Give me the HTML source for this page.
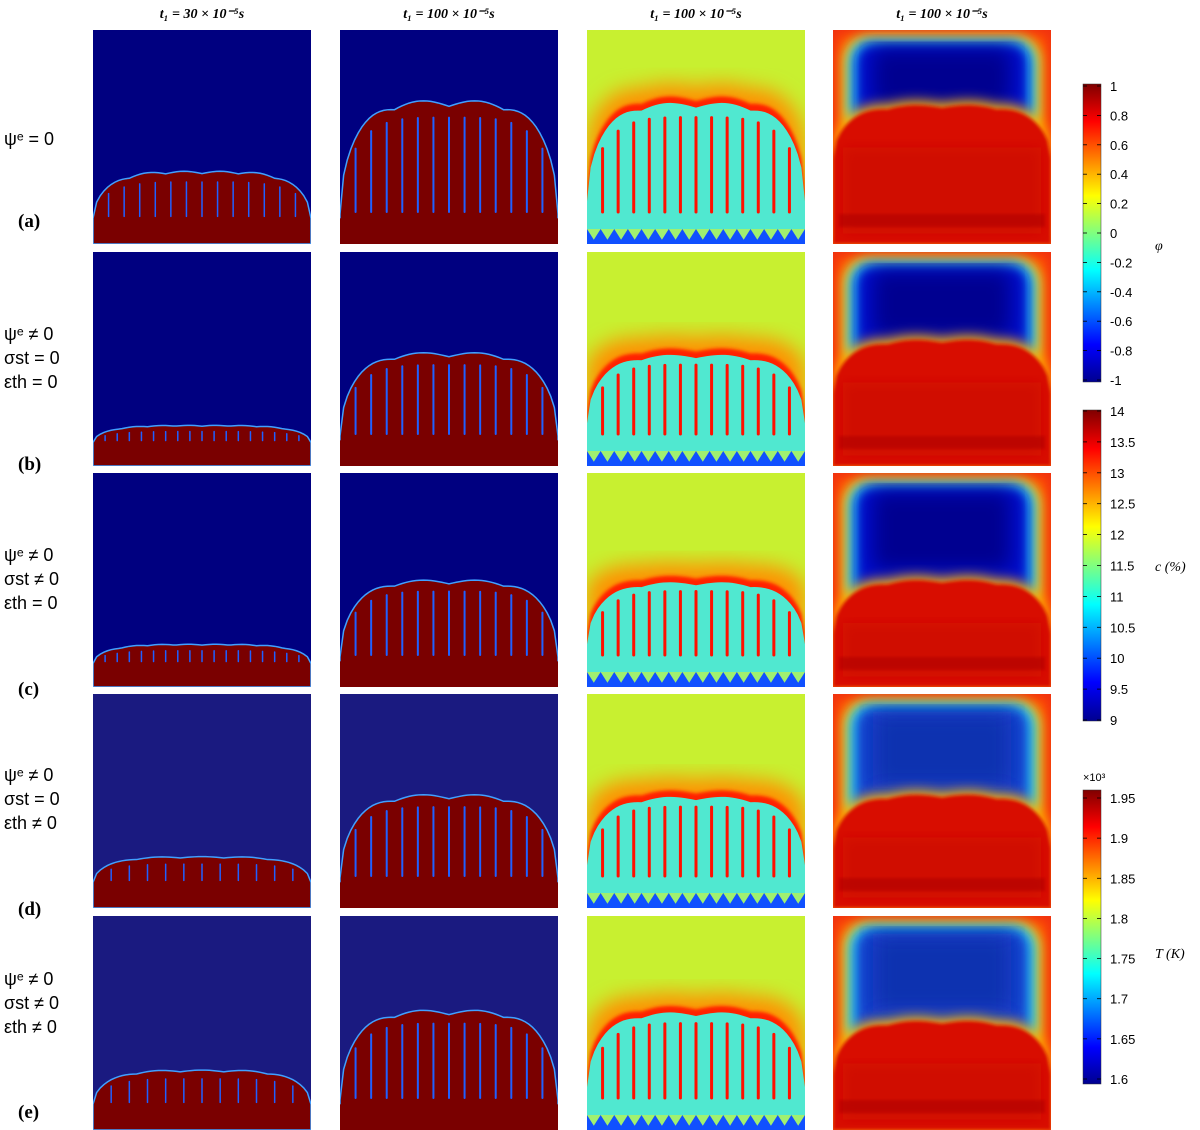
<!DOCTYPE html>
<html><head><meta charset="utf-8"><style>
body{margin:0;background:#fff;width:1200px;height:1130px;overflow:hidden;font-family:"Liberation Serif",serif}
svg{position:absolute;left:0;top:0}
</style></head><body>
<svg id="fig" width="1200" height="1130">
<defs>
<filter id="b2"><feGaussianBlur stdDeviation="1.5"/></filter>
<filter id="b6"><feGaussianBlur stdDeviation="6"/></filter>
<filter id="b12"><feGaussianBlur stdDeviation="10"/></filter>
<linearGradient id="jet" x1="0" y1="1" x2="0" y2="0">
<stop offset="0" stop-color="#00008f"/><stop offset="0.125" stop-color="#0000ff"/><stop offset="0.375" stop-color="#00ffff"/><stop offset="0.625" stop-color="#ffff00"/><stop offset="0.875" stop-color="#ff0000"/><stop offset="1" stop-color="#800000"/>
</linearGradient>
</defs>
</svg>
<script>
const NS="http://www.w3.org/2000/svg";
const svg=document.getElementById('fig');
const defs=svg.querySelector('defs');
function mk(t,a,p){const e=document.createElementNS(NS,t);for(const k in a)e.setAttribute(k,a[k]);(p||svg).appendChild(e);return e;}

const colX=[93,340,587,833];
const rowY=[30,252,473,694,916];
const PW=218, PH=214;
const col1Top=[0.66,0.81,0.80,0.76,0.72];
const col2Top=[0.33,0.47,0.50,0.47,0.44];
const col4Top=[0.35,0.41,0.50,0.47,0.49];
const baseFrac=[0.88,0.89,0.89,0.88,0.88];
const fingerCount=[12,16,16,10,10];

function domePath(x,y,top,base,waves){
  let d=`M${x},${y+PH} L${x},${y+PH*base}`;
  const steps=60;
  for(let i=0;i<=steps;i++){
    const t=i/steps;
    const h=Math.sqrt(Math.max(0,1-Math.pow(2*t-1,4)));
    const w=Math.abs(Math.sin(t*Math.PI*waves))*0.05;
    const yy=y+PH*(base-(base-top)*h*(0.95+w));
    d+=` L${x+t*PW},${yy}`;
  }
  d+=` L${x+PW},${y+PH} Z`;
  return d;
}
function fingers(g,x,y,top,base,n,col,wid){
  for(let i=1;i<n;i++){
    const t=i/n;
    const h=Math.sqrt(Math.max(0,1-Math.pow(2*t-1,4)));
    const y1=y+PH*(base-(base-top)*h*0.85);
    mk('line',{x1:x+t*PW,y1:y1,x2:x+t*PW,y2:y+PH*base-2,stroke:col,'stroke-width':wid,'stroke-linecap':'round'},g);
  }
}
let cid=0;
function panel(name,x,y){
  const id='cp'+(cid++);
  const c=mk('clipPath',{id:id},defs);
  mk('rect',{x:x,y:y,width:PW,height:PH},c);
  const g=mk('g',{'clip-path':`url(#${id})`});
  
  
  return g;
}

for(let r=0;r<5;r++){
  const y=rowY[r];
  const navy=r>=3?'#1a1a80':'#000080';
  let x=colX[0];
  let g=panel(`panel-phi-early-row${r}`,x,y);
  mk('rect',{x:x,y:y,width:PW,height:PH,fill:navy},g);
  mk('path',{d:domePath(x,y,col1Top[r],baseFrac[r],fingerCount[r]/2),fill:'#7a0000',stroke:'#40a0ff','stroke-width':1.5},g);
  fingers(g,x,y,col1Top[r]+0.02,baseFrac[r],fingerCount[r]+2,'#2060ff',1.5);
  // col2
  x=colX[1];
  g=panel(`panel-phi-late-row${r}`,x,y);
  mk('rect',{x:x,y:y,width:PW,height:PH,fill:navy},g);
  mk('path',{d:domePath(x,y,col2Top[r],0.86,4),fill:'#7a0000',stroke:'#40a0ff','stroke-width':1.5},g);
  fingers(g,x,y,col2Top[r],0.86,14,'#2060ff',2);
  mk('rect',{x:x,y:y+PH*0.88,width:PW,height:PH*0.12,fill:'#7a0000'},g);
  // col3
  x=colX[2];
  g=panel(`panel-concentration-row${r}`,x,y);
  mk('rect',{x:x,y:y,width:PW,height:PH,fill:'#c8f030'},g);
  mk('path',{d:domePath(x,y,col2Top[r]-0.08,0.55,4),fill:'#ff9000',filter:'url(#b12)'},g);
  mk('path',{d:domePath(x,y,col2Top[r]-0.02,0.75,4),fill:'#ff2000',filter:'url(#b2)'},g);
  mk('path',{d:domePath(x,y,col2Top[r]+0.01,0.8,4),fill:'#50e8d0'},g);
  fingers(g,x,y,col2Top[r],0.86,14,'#ff1000',3);
  mk('rect',{x:x,y:y+PH*0.93,width:PW,height:PH*0.07,fill:'#1050ff'},g);
  for(let k=0;k<16;k++){mk('path',{d:`M${x+k*PW/16},${y+PH*0.93} l${PW/32},${PH*0.05} l${PW/32},-${PH*0.05}Z`,fill:'#a0f070'},g);}
  // col4
  x=colX[3];
  g=panel(`panel-temperature-row${r}`,x,y);
  mk('rect',{x:x,y:y,width:PW,height:PH,fill:'#f03010'},g);
  mk('rect',{x:x+4,y:y+4,width:PW-8,height:PH-8,fill:'#ff5000',filter:'url(#b6)'},g);
  const bh=PH*(col4Top[r]+0.12);
  mk('rect',{x:x+10,y:y+6,width:PW-20,height:bh,rx:24,fill:'#ffd000',filter:'url(#b6)'},g);
  mk('rect',{x:x+15,y:y+9,width:PW-30,height:bh-6,rx:22,fill:'#20e0ff',filter:'url(#b6)'},g);
  mk('rect',{x:x+22,y:y+13,width:PW-44,height:bh-14,rx:18,fill:r>=3?'#1840d0':'#0010d0',filter:'url(#b6)'},g);
  mk('rect',{x:x+40,y:y+18,width:PW-80,height:bh*0.6,fill:r>=3?'#1030b0':'#000090',filter:'url(#b12)'},g);
  mk('path',{d:domePath(x,y,col4Top[r]-0.02,col4Top[r]+0.2,4),fill:'#ffb000',filter:'url(#b6)'},g);
  mk('path',{d:domePath(x,y,col4Top[r],col4Top[r]+0.25,4),fill:'#d81000',filter:'url(#b2)'},g);
  mk('rect',{x:x+10,y:y+PH*(col4Top[r]+0.2),width:PW-20,height:PH*(0.75-col4Top[r]),fill:'#d01000',filter:'url(#b6)'},g);
  mk('rect',{x:x+6,y:y+PH*0.86,width:PW-12,height:PH*0.06,fill:'#b00000',opacity:0.6,filter:'url(#b2)'},g);
}

const headers=["t\u2081 = 30 \u00d7 10\u207b\u2075s","t\u2081 = 100 \u00d7 10\u207b\u2075s","t\u2081 = 100 \u00d7 10\u207b\u2075s","t\u2081 = 100 \u00d7 10\u207b\u2075s"];
headers.forEach((h,i)=>{const t=mk('text',{x:colX[i]+PW/2,y:18,'text-anchor':'middle','font-size':14,'font-family':'"Liberation Serif",serif','font-style':'italic','font-weight':'bold'});t.textContent=h;

});

const rowLabels=[["\u03c8\u1d49 = 0"],["\u03c8\u1d49 \u2260 0","\u03c3st = 0","\u03b5th = 0"],["\u03c8\u1d49 \u2260 0","\u03c3st \u2260 0","\u03b5th = 0"],["\u03c8\u1d49 \u2260 0","\u03c3st = 0","\u03b5th \u2260 0"],["\u03c8\u1d49 \u2260 0","\u03c3st \u2260 0","\u03b5th \u2260 0"]];
const rowLabelY=[145,340,561,781,985];
const letters=["(a)","(b)","(c)","(d)","(e)"];
const letterY=[227,470,695,915,1118];
rowLabels.forEach((ls,r)=>{
  ls.forEach((l,j)=>{const t=mk('text',{x:4,y:rowLabelY[r]+j*24,'font-size':18,'font-family':'"Liberation Sans",sans-serif'});t.textContent=l;
  
  });
  const t=mk('text',{x:18,y:letterY[r],'font-size':19,'font-weight':'bold','font-family':'"Liberation Serif",serif'});t.textContent=letters[r];
  
  
});

const phiTicks=[1,0.8,0.6,0.4,0.2,0,-0.2,-0.4,-0.6,-0.8,-1];
const cTicks=[14,13.5,13,12.5,12,11.5,11,10.5,10,9.5,9];
const tTicks=[1.95,1.9,1.85,1.8,1.75,1.7,1.65,1.6];
function colorbar(name,x,y0,y1,ticks,vmin,vmax,tickTop,tickBot,label,ly){
  const g=mk('g',{});
  
  
  mk('rect',{x:x,y:y0,width:18,height:y1-y0,fill:'url(#jet)',stroke:'#333','stroke-width':0.5},g);
  const sc=v=>tickBot+(v-vmin)/(vmax-vmin)*(tickTop-tickBot);
  ticks.forEach(v=>{const yy=sc(v);
    mk('line',{x1:x,x2:x+4,y1:yy,y2:yy,stroke:'#000','stroke-width':0.8},g);
    mk('line',{x1:x+14,x2:x+18,y1:yy,y2:yy,stroke:'#000','stroke-width':0.8},g);
    const t=mk('text',{x:x+27,y:yy+5,'font-size':13,'font-family':'"Liberation Sans",sans-serif'},g);t.textContent=String(v);});
  const t=mk('text',{x:1155,y:ly,'font-size':14,'font-style':'italic','font-family':'"Liberation Serif",serif'},g);t.textContent=label;
}
colorbar('colorbar-phi',1083,84,382,phiTicks,-1,1,86,380,'\u03c6',250);
colorbar('colorbar-concentration',1083,410,721,cTicks,9,14,411,720,'c (%)',571);
colorbar('colorbar-temperature',1083,790,1084,tTicks,1.6,1.95,798,1079,'T (K)',958);
const ex=mk('text',{x:1083,y:781,'font-size':11,'font-family':'"Liberation Sans",sans-serif'});ex.textContent='\u00d710\u00b3';


</script>
</body></html>
